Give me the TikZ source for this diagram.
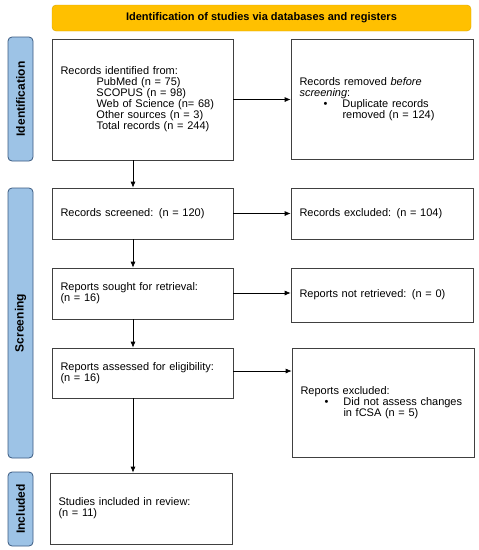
\documentclass[tikz,border=0pt]{standalone}
\usepackage{fontspec}
\setmainfont{Liberation Sans}
\usetikzlibrary{arrows.meta}
\definecolor{headfill}{HTML}{FFC000}
\definecolor{headline}{HTML}{D9A400}
\definecolor{sidefill}{HTML}{9DC3E6}
\definecolor{sideline}{HTML}{3A5A80}
\definecolor{boxline}{HTML}{404040}
\newcommand{\bulletline}[2]{\makebox[43pt][l]{\hspace*{24pt}\textbullet}#1\\\hspace*{43pt}#2}

\begin{document}
\begin{tikzpicture}[x=1pt,y=-1pt,
	font=\fontsize{11}{11}\selectfont,
	HeadStyle/.style = {draw=headline, fill=headfill, rounded corners=4pt,
		minimum width=419pt, minimum height=26pt, font=\fontsize{11}{11}\selectfont\bfseries},
	SideStyle/.style = {draw=sideline, fill=sidefill, rounded corners=4pt, line width=0.8pt,
		minimum height=25pt, rotate=90, font=\fontsize{12}{12}\selectfont\bfseries},
	BoxStyle/.style = {draw=boxline, line width=0.7pt, align=left, inner sep=0pt,
		minimum width=#1, text width=#1-17pt},
	BoxStyle/.default = 181pt,
	FlowArrow/.style = {draw=black, line width=0.7pt, -{Latex[length=6pt,width=5pt]}}]
\useasboundingbox (0,0) rectangle (479,550);
% header and phase bars
\node[HeadStyle] (head) at (261.5,18) {Identification of studies via databases and registers};
\node[SideStyle, minimum width=124pt] (ident) at (20.5,99) {Identification};
\node[SideStyle, minimum width=270pt] (screen) at (20.5,323) {Screening};
\node[SideStyle, minimum width=74pt] (incl) at (20.5,509) {Included};
% left column
\node[BoxStyle, minimum height=121pt] (records) at (142.5,99.5)
	{Records identified from:\\
	\hspace*{36pt}PubMed (n = 75)\\
	\hspace*{36pt}SCOPUS (n = 98)\\
	\hspace*{36pt}Web of Science (n= 68)\\
	\hspace*{36pt}Other sources (n = 3)\\
	\hspace*{36pt}Total records (n = 244)};
\node[BoxStyle, minimum height=51pt] (screened) at (142.5,213.5) {Records screened: (n = 120)};
\node[BoxStyle, minimum height=51pt] (sought) at (142.5,293.5) {Reports sought for retrieval:\\(n = 16)};
\node[BoxStyle, minimum height=50pt] (assessed) at (142.5,373) {Reports assessed for eligibility:\\(n = 16)};
\node[BoxStyle=182pt, minimum height=71pt] (included) at (141,508.5) {Studies included in review:\\(n = 11)};
% right column
\node[BoxStyle=182pt, minimum height=120pt] (removed) at (382,99)
	{Records removed \textit{before}\\\textit{screening}:\\
	\bulletline{Duplicate records}{removed (n = 124)}};
\node[BoxStyle=182pt, minimum height=51pt] (excluded) at (382,213.5) {Records excluded: (n = 104)};
\node[BoxStyle=182pt, minimum height=54pt] (notret) at (382,295) {Reports not retrieved: (n = 0)};
\node[BoxStyle=182pt, minimum height=109pt] (repexcl) at (383,402.5)
	{Reports excluded:\\
	\bulletline{Did not assess changes}{in fCSA (n = 5)}\\[10pt]};
% arrows
\draw[FlowArrow] (records.east) -- (records.east -| removed.west);
\draw[FlowArrow] (screened.east) -- (screened.east -| excluded.west);
\draw[FlowArrow] ([yshift=0.5pt]sought.east) -- ([yshift=0.5pt]sought.east -| notret.west);
\draw[FlowArrow] ([yshift=2pt]assessed.east) -- ([yshift=2pt]assessed.east -| repexcl.west);
\draw[FlowArrow] ([xshift=-9.5pt]records.south) -- ([xshift=-9.5pt]screened.north);
\draw[FlowArrow] ([xshift=-9.5pt]screened.south) -- ([xshift=-9.5pt]sought.north);
\draw[FlowArrow] ([xshift=-9.5pt]sought.south) -- ([xshift=-9.5pt]assessed.north);
\draw[FlowArrow] ([xshift=-9.5pt]assessed.south) -- ([xshift=-8pt]included.north);
\end{tikzpicture}
\end{document}
